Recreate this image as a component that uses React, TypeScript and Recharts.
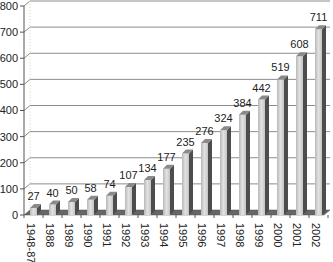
import React from "react";
import { BarChart, Bar, XAxis, YAxis, CartesianGrid, LabelList } from "recharts";

const years = ["1948-87", "1988", "1989", "1990", "1991", "1992", "1993", "1994", "1995", "1996", "1997", "1998", "1999", "2000", "2001", "2002"];
const counts = [27, 40, 50, 58, 74, 107, 134, 177, 235, 276, 324, 384, 442, 519, 608, 711];
const yTicks = [0, 100, 200, 300, 400, 500, 600, 700, 800];

const data = years.map((year, i) => ({ year, count: counts[i] }));

const FONT = "'Liberation Sans', Arial, sans-serif";
const DX = 4;
const DY = 4;
const PLOT_BOTTOM = 215;
const BAND = 19;

// 3d-looking column: front face, dark right side, light top
const Column = (props: any) => {
  const { x, y, width, height } = props;
  if (!height) return null;
  const r = x + width;
  const b = y + height;
  return (
    <g>
      <rect x={x} y={y} width={width} height={height} fill="url(#front)" />
      <path d={`M${r},${y} L${r + DX},${y - DY} L${r + DX},${b - DY} L${r},${b} Z`} fill="#4d4d4d" />
      <path d={`M${x},${y} L${x + DX},${y - DY} L${r + DX},${y - DY} L${r},${y} Z`} fill="#8a8a8a" />
    </g>
  );
};

// gridlines sit on the back wall, pushed up and to the right
const WallLine = (props: any) => {
  const { x1, x2, y1 } = props;
  const isFloor = Math.abs(y1 - PLOT_BOTTOM) < 1;
  if (isFloor) {
    return (
      <path
        key={props.key}
        d={`M${x1},${y1} L${x1 + 6},${y1 - 5} L${x2 + 2},${y1 - 5} L${x2 - 4},${y1} Z`}
        fill="#666"
        stroke="#505050"
        strokeWidth={0.5}
      />
    );
  }
  return (
    <g key={props.key}>
      <path d={`M${x1},${y1} L${x1 + 6},${y1 - 5} L${x2 + 2},${y1 - 5}`} fill="none" stroke="#8c8c8c" strokeWidth={1} />
      <line x1={x1 + 6} y1={y1 - 5} x2={x1 + 6} y2={y1 + 21} stroke="#d0d0d0" strokeDasharray="1 2" />
    </g>
  );
};

const YearTick = (props: any) => {
  const { x, payload, index } = props;
  const ty = PLOT_BOTTOM + 8;
  const tx = x - 3;
  return (
    <g>
      <line x1={x - BAND / 2} y1={PLOT_BOTTOM} x2={x - BAND / 2} y2={PLOT_BOTTOM + 3} stroke="#555" />
      {index === years.length - 1 && (
        <line x1={x + BAND / 2} y1={PLOT_BOTTOM} x2={x + BAND / 2} y2={PLOT_BOTTOM + 3} stroke="#555" />
      )}
      <text
        x={tx}
        y={ty}
        transform={`rotate(90, ${tx}, ${ty})`}
        textAnchor="start"
        dominantBaseline="central"
        fontSize={11}
        fill="#222"
        fontFamily={FONT}
      >
        {payload.value}
      </text>
    </g>
  );
};

export default function App() {
  return (
    <div style={{ position: "absolute", left: 0, top: 0, background: "#fff" }}>
      <BarChart
        width={333}
        height={262}
        data={data}
        margin={{ top: 6, right: 5, left: 0, bottom: 0 }}
        barSize={7}
      >
        <defs>
          <linearGradient id="front" x1="0" y1="0" x2="1" y2="0">
            <stop offset="0%" stopColor="#b8b8b8" />
            <stop offset="50%" stopColor="#e2e2e2" />
            <stop offset="100%" stopColor="#c4c4c4" />
          </linearGradient>
        </defs>
        <CartesianGrid vertical={false} horizontal={WallLine} />
        <XAxis
          dataKey="year"
          height={47}
          interval={0}
          axisLine={false}
          tickLine={false}
          tick={YearTick}
        />
        <YAxis
          width={24}
          domain={[0, 800]}
          ticks={yTicks}
          interval={0}
          axisLine={{ stroke: "#555" }}
          tickLine={{ stroke: "#555" }}
          tickSize={4}
          tick={{ fontSize: 11, fill: "#222", fontFamily: FONT }}
        />
        <Bar dataKey="count" shape={Column} isAnimationActive={false}>
          <LabelList dataKey="count" position="top" offset={8} fill="#222" fontSize={11} fontFamily={FONT} />
        </Bar>
      </BarChart>
    </div>
  );
}
